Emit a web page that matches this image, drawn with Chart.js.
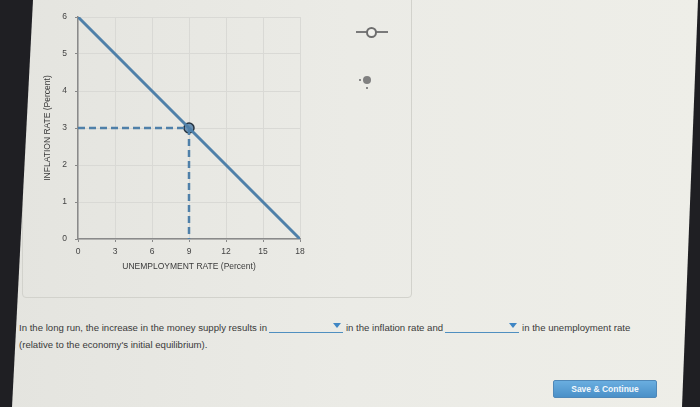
<!DOCTYPE html>
<html>
<head>
<meta charset="utf-8">
<script src="https://cdn.jsdelivr.net/npm/chart.js@4"></script>
<style>
  html, body { margin: 0; padding: 0; }
  body {
    width: 700px; height: 407px; overflow: hidden; position: relative;
    background: linear-gradient(90deg, #e4e4df 0%, #ebebe6 50%, #eeeee8 100%);
    font-family: "Liberation Sans", Arial, sans-serif;
  }
  #frame {
    position: absolute; left: 22px; top: -10px; width: 390px; height: 308px;
    border: 1px solid #d2d2cc; border-radius: 4px; box-sizing: border-box;
  }
  #chart-wrap { position: absolute; left: 0; top: 0; width: 320px; height: 272px; }
  .strip { position: absolute; top: 0; height: 407px; background: #1f1f23; }
  #strip-left { left: 0; width: 34px; clip-path: polygon(0 0, 33px 0, 12px 407px, 0 407px); }
  #strip-right { right: 0; width: 18px; clip-path: polygon(16px 0, 18px 0, 18px 407px, 0 407px); }
  .tool-line { position: absolute; left: 356px; top: 31px; width: 32px; height: 2px; background: #7a7a7a; }
  .tool-open { position: absolute; left: 366px; top: 27px; width: 7px; height: 7px;
    border: 2px solid #6e6e6e; border-radius: 50%; background: #f2f2ee; }
  .tool-dot { position: absolute; left: 363px; top: 76px; width: 8px; height: 8px; border-radius: 50%; background: #808080; }
  .tool-dot-s { position: absolute; width: 2px; height: 2px; background: #888; }
  #question {
    position: absolute; left: 19px; top: 319px; font-size: 9.6px; color: #3a3a3a;
    line-height: 17px; white-space: nowrap;
  }
  .blank { display: inline-block; position: relative; width: 74px; height: 11px;
    border-bottom: 1px solid #4f8fc0; vertical-align: -2px; margin: 0 3px 0 2px; }
  .blank::after { content: ""; position: absolute; right: 2px; top: 2px;
    border-left: 4px solid transparent; border-right: 4px solid transparent; border-top: 5px solid #3f86c4; }
  #save {
    position: absolute; left: 553px; top: 380px; width: 104px; height: 18px;
    background: linear-gradient(#6aaee0, #4a90c8); border: 1px solid #4f88b8; border-radius: 2px;
    color: #f4f8fc; font-size: 8.5px; font-weight: bold; text-align: center; line-height: 17px; box-sizing: border-box;
  }
</style>
</head>
<body>
<div id="frame"></div>
<div id="chart-wrap"><canvas id="myChart" width="320" height="272"></canvas></div>

<div class="tool-line"></div>
<div class="tool-open"></div>
<div class="tool-dot"></div>
<div class="tool-dot-s" style="left:359px;top:79px;"></div>
<div class="tool-dot-s" style="left:366px;top:87px;"></div>

<div id="question">In the long run, the increase in the money supply results in<span class="blank"></span>in the inflation rate and<span class="blank"></span>in the unemployment rate<br>(relative to the economy's initial equilibrium).</div>
<div id="save">Save &amp; Continue</div>

<div class="strip" id="strip-left"></div>
<div class="strip" id="strip-right"></div>

<script>
// Phillips curve endpoints (unemployment %, inflation %)
const curveX = [0, 18];
const curveY = [6, 0];
// initial equilibrium
const eqX = 9;
const eqY = 3;
// axis ticks
const xTicks = [0, 3, 6, 9, 12, 15, 18];
const yTicks = [0, 1, 2, 3, 4, 5, 6];

const BLUE = '#4f80a9';

const ctx = document.getElementById('myChart').getContext('2d');
new Chart(ctx, {
    type: 'scatter',
    data: {
        datasets: [
            {
                data: curveX.map((x, i) => ({ x: x, y: curveY[i] })),
                showLine: true,
                borderColor: BLUE,
                borderWidth: 3,
                pointRadius: 0
            },
            {
                data: [{ x: xTicks[0], y: eqY }, { x: eqX, y: eqY }],
                showLine: true,
                borderColor: BLUE,
                borderWidth: 2.5,
                borderDash: [7, 4],
                pointRadius: 0
            },
            {
                data: [{ x: eqX, y: eqY }, { x: eqX, y: yTicks[0] }],
                showLine: true,
                borderColor: BLUE,
                borderWidth: 2.5,
                borderDash: [7, 4],
                pointRadius: 0
            },
            {
                data: [{ x: eqX, y: eqY }],
                pointRadius: 5,
                pointBackgroundColor: '#6a90b2',
                pointBorderColor: '#26333f',
                pointBorderWidth: 1.5
            }
        ]
    },
    options: {
        responsive: false,
        animation: false,
        layout: { padding: { left: 43, top: 17, right: 20, bottom: 0 } },
        plugins: { legend: { display: false }, tooltip: { enabled: false } },
        scales: {
            x: {
                type: 'linear',
                min: xTicks[0],
                max: xTicks[xTicks.length - 1],
                afterBuildTicks: s => { s.ticks = xTicks.map(v => ({ value: v })); },
                afterFit: s => { s.height = 33; },
                grid: { color: '#d9d9d5', tickLength: 3, drawTicks: true, tickColor: '#888' },
                border: { color: '#8a8a8a', width: 1.5 },
                ticks: { color: '#444', font: { size: 8.5, family: 'Liberation Sans' }, padding: 5, maxRotation: 0 },
                title: { display: true, text: 'UNEMPLOYMENT RATE (Percent)', color: '#3a3a3a',
                         font: { size: 8.5, family: 'Liberation Sans' }, padding: { top: 0, bottom: 0 } }
            },
            y: {
                type: 'linear',
                min: yTicks[0],
                max: yTicks[yTicks.length - 1],
                afterBuildTicks: s => { s.ticks = yTicks.map(v => ({ value: v })); },
                afterFit: s => { s.width = 35; },
                grid: { color: '#d9d9d5', tickLength: 3, tickColor: '#888' },
                border: { color: '#8a8a8a', width: 1.5 },
                ticks: { color: '#444', font: { size: 8.5, family: 'Liberation Sans' }, padding: 8 },
                title: { display: true, text: 'INFLATION RATE (Percent)', color: '#3a3a3a',
                         font: { size: 8.5, family: 'Liberation Sans' }, padding: { top: 0, bottom: 0 } }
            }
        }
    }
});
</script>
</body>
</html>
